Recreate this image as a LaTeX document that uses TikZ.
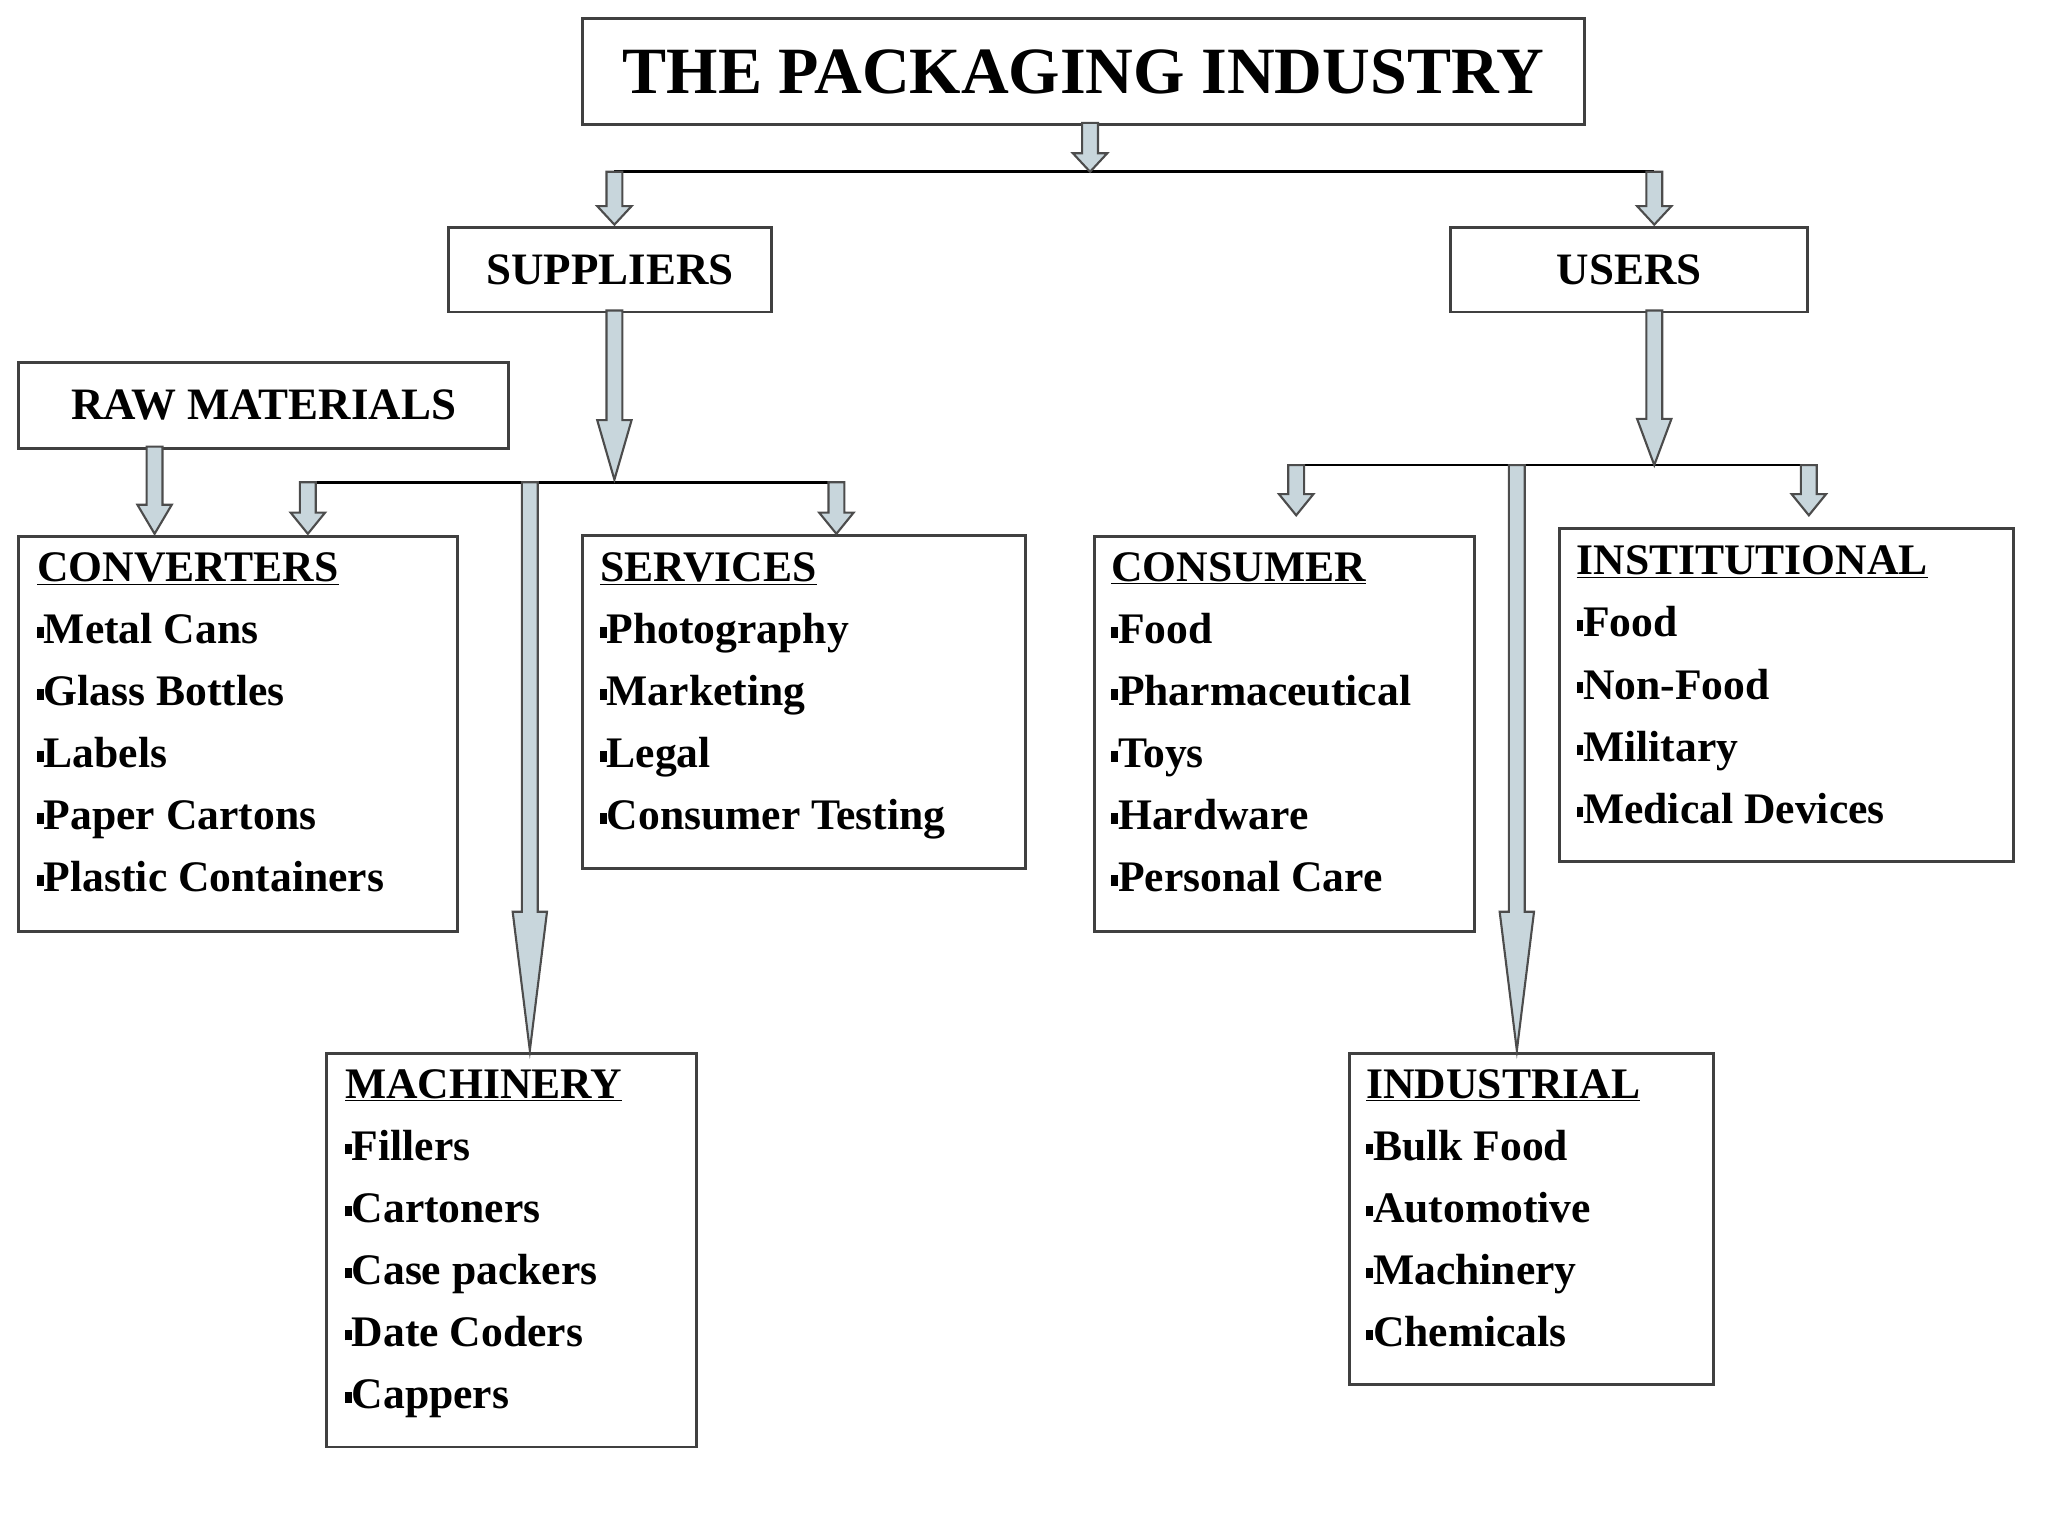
\documentclass[tikz,border=0pt]{standalone}
\usepackage{fontspec}
\setmainfont{Liberation Serif}
\begin{document}
\begin{tikzpicture}[x=1pt,y=-1pt,
  box/.style={draw=black!75,line width=2.2pt,fill=white,anchor=north west,inner sep=0pt},
  head/.style={font=\fontsize{34}{40}\selectfont\bfseries,anchor=center},
  list/.style={font=\fontsize{33}{47}\selectfont\bfseries,anchor=north west,align=left,inner sep=0pt},
  arr/.style={fill=cyan!25!gray!40!white,draw=black!70,line width=1.6pt,line join=miter},
  ln/.style={draw=black,line width=2pt}]
\useasboundingbox (0,0) rectangle (1550,1162.5);
\newcommand\barrow[4]{\filldraw[arr] (#1-6,#2) -- (#1-6,#3-#4) -- (#1-13,#3-#4) -- (#1,#3) -- (#1+13,#3-#4) -- (#1+6,#3-#4) -- (#1+6,#2) -- cycle;}
\newcommand\bu{\rule[0.3ex]{5pt}{8pt}}
% boxes
\node[box,minimum width=758pt,minimum height=80pt] (title) at (440,13) {};
\node[font=\fontsize{50}{56}\selectfont\bfseries] (titlet) at (title.center) {THE PACKAGING INDUSTRY};
\node[box,minimum width=245pt,minimum height=64pt] (sup) at (338,171) {};
\node[head] (supt) at (sup.center) {SUPPLIERS};
\node[box,minimum width=270pt,minimum height=64pt] (usr) at (1097,171) {};
\node[head] (usrt) at (usr.center) {USERS};
\node[box,minimum width=371pt,minimum height=65pt] (raw) at (13,273) {};
\node[head] (rawt) at (raw.center) {RAW MATERIALS};
\node[box,minimum width=332pt,minimum height=299pt] (conv) at (13,405) {};
\node[list] (convt) at (28,418) {\underline{CONVERTERS}\\\bu Metal Cans\\\bu Glass Bottles\\\bu Labels\\\bu Paper Cartons\\\bu Plastic Containers};
\node[box,minimum width=335pt,minimum height=252pt] (serv) at (440,404) {};
\node[list] (servt) at (454,418) {\underline{SERVICES}\\\bu Photography\\\bu Marketing\\\bu Legal\\\bu Consumer Testing};
\node[box,minimum width=280pt,minimum height=298pt] (mach) at (246,796) {};
\node[list] (macht) at (261,809) {\underline{MACHINERY}\\\bu Fillers\\\bu Cartoners\\\bu Case packers\\\bu Date Coders\\\bu Cappers};
\node[box,minimum width=288pt,minimum height=299pt] (cons) at (827,405) {};
\node[list] (const) at (841,418) {\underline{CONSUMER}\\\bu Food\\\bu Pharmaceutical\\\bu Toys\\\bu Hardware\\\bu Personal Care};
\node[box,minimum width=344pt,minimum height=252pt] (inst) at (1179,399) {};
\node[list] (instt) at (1193,413) {\underline{INSTITUTIONAL}\\\bu Food\\\bu Non-Food\\\bu Military\\\bu Medical Devices};
\node[box,minimum width=276pt,minimum height=251pt] (ind) at (1020,796) {};
\node[list] (indt) at (1034,809) {\underline{INDUSTRIAL}\\\bu Bulk Food\\\bu Automotive\\\bu Machinery\\\bu Chemicals};
% junctions
\coordinate (j1) at (465,130); \coordinate (j2) at (1252,130);
\coordinate (j3) at (233,365); \coordinate (j4) at (633,365);
\coordinate (j5) at (981,352); \coordinate (j6) at (1369,352);
\draw[ln] (j1) -- (j2);
\draw[ln] (j3) -- (j4);
\draw[ln] (j5) -- (j6);
% arrows
\barrow{825}{93}{130}{14}
\barrow{465}{130}{170}{14}
\barrow{1252}{130}{170}{14}
\barrow{465}{235}{363}{45}
\barrow{1252}{235}{352}{35}
\barrow{117}{338}{404}{22}
\barrow{233}{365}{404}{16}
\barrow{633}{365}{404}{16}
\barrow{401}{365}{795}{105}
\barrow{981}{352}{390}{16}
\barrow{1369}{352}{390}{16}
\barrow{1148}{352}{795}{105}
\end{tikzpicture}
\end{document}
